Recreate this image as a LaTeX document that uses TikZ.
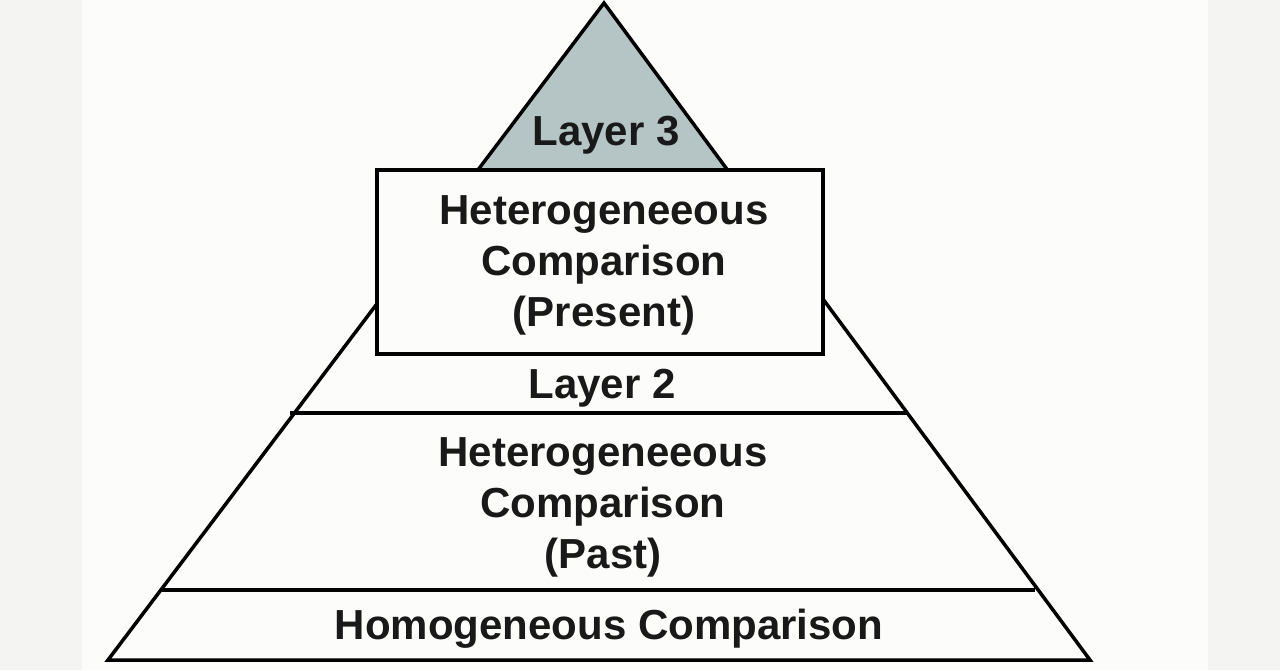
\documentclass[tikz,border=0pt]{standalone}
\usepackage{fontspec}
\setmainfont{Liberation Sans}
\begin{document}
\begin{tikzpicture}[x=1pt,y=-1pt,
  lbl/.style={font=\bfseries\fontsize{42}{51}\selectfont, align=center, text=black!90},
  edge/.style={line width=3.5pt, line join=miter}]
\definecolor{bg}{HTML}{FCFCFA}
\definecolor{side}{HTML}{F4F4F2}
\definecolor{topfill}{HTML}{B5C5C5}
\fill[side] (0,0) rectangle (1280,670);
\fill[bg] (82,0) rectangle (1208,670);
\useasboundingbox (0,0) rectangle (1280,670);
\coordinate (apex) at (604,3);
\coordinate (bl) at (108,660);
\coordinate (br) at (1090,660);
\fill[topfill] (apex) -- (482,168) -- (726,168) -- cycle;
\draw[edge] (apex) -- (bl) -- (br) -- cycle;
\draw[edge] (290,413) -- (908,413);
\draw[edge] (162,590) -- (1035,590);
\node[draw, edge, fill=bg, minimum width=446pt, minimum height=184pt, anchor=north west] (box) at (375,168) {};
\node[lbl] (l3) at (606,135) {Layer 3};
\node[lbl] (hp) at (604,265) {Heterogeneeous\\Comparison\\(Present)};
\node[lbl] (l2) at (602,388) {Layer 2};
\node[lbl] (hpa) at (603,507) {Heterogeneeous\\Comparison\\(Past)};
\node[lbl] (hom) at (609,629) {Homogeneous Comparison};
\end{tikzpicture}
\end{document}
